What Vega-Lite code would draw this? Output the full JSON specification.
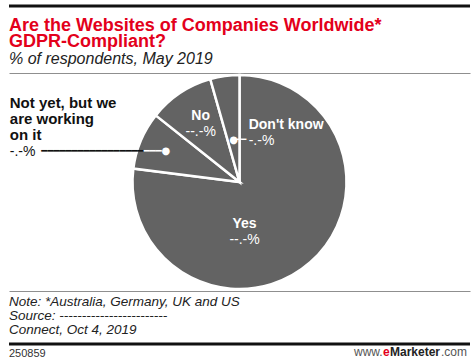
{
  "$schema": "https://vega.github.io/schema/vega-lite/v6.json",
  "padding": {"left": 7, "right": 6, "top": 4, "bottom": 0},
  "background": "white",
  "spacing": 0,
  "config": {
    "view": {"stroke": null},
    "font": "Liberation Sans",
    "concat": {"spacing": 0}
  },
  "vconcat": [
    {
      "width": 461, "height": 4,
      "view": {"stroke": "#111111", "strokeWidth": 3, "strokeDash": [461, 10000]},
      "title": {
        "text": ["Are the Websites of Companies Worldwide*", "GDPR-Compliant?"],
        "subtitle": "% of respondents, May 2019",
        "orient": "bottom",
        "anchor": "start",
        "font": "Liberation Sans",
        "fontSize": 18,
        "fontWeight": "bold",
        "color": "#e3001b",
        "lineHeight": 16,
        "subtitleFont": "Liberation Sans",
        "subtitleFontSize": 16,
        "subtitleFontStyle": "italic",
        "subtitleColor": "#222222",
        "subtitlePadding": 0,
        "offset": 7
      },
      "data": {"values": []},
      "mark": "text",
      "encoding": {}
    },
    {
      "width": 461, "height": 218,
      "view": {"stroke": "#8f8f8f", "strokeWidth": 1, "strokeDash": [461, 218]},
      "title": {
        "text": ["Note: *Australia, Germany, UK and US", "Source: ------------------------", "Connect, Oct 4, 2019"],
        "orient": "bottom",
        "anchor": "start",
        "font": "Liberation Sans",
        "fontSize": 13.5,
        "fontStyle": "italic",
        "fontWeight": "normal",
        "color": "#222222",
        "lineHeight": 14,
        "offset": 1
      },
      "data": {"values": [
        {"category": "Yes", "value": 77.0, "shown": "--.-%"},
        {"category": "Not yet, but we are working on it", "value": 8.7, "shown": "-.-%"},
        {"category": "No", "value": 9.9, "shown": "--.-%"},
        {"category": "Don't know", "value": 4.4, "shown": "-.-%"}
      ]},
      "encoding": {
        "theta": {"field": "value", "type": "quantitative", "stack": true},
        "order": {"field": "category", "type": "ordinal", "sort": "descending"},
        "detail": {"field": "category"}
      },
      "layer": [
        {"mark": {"type": "arc", "radius": 107, "fill": "#636363", "stroke": "white", "strokeWidth": 2.5}},
        {
          "mark": {"type": "text", "clip": true, "radius": 50, "dx": -28, "dy": 4, "font": "Liberation Sans", "fontSize": 14, "fontWeight": "bold", "fill": "white", "align": "center", "baseline": "middle"},
          "encoding": {"text": {"condition": {"test": "datum.category === 'Yes'", "value": "Yes"}, "value": ""}}
        },
        {
          "mark": {"type": "text", "clip": true, "radius": 50, "dx": -28, "dy": 20, "font": "Liberation Sans", "fontSize": 14, "fill": "white", "align": "center", "baseline": "middle"},
          "encoding": {"text": {"condition": {"test": "datum.category === 'Yes'", "field": "shown"}, "value": ""}}
        },
        {
          "mark": {"type": "text", "clip": true, "radius": 70, "dy": -8, "font": "Liberation Sans", "fontSize": 14, "fontWeight": "bold", "fill": "white", "align": "center", "baseline": "middle"},
          "encoding": {"text": {"condition": {"test": "datum.category === 'No'", "value": "No"}, "value": ""}}
        },
        {
          "mark": {"type": "text", "clip": true, "radius": 70, "dy": 8, "font": "Liberation Sans", "fontSize": 14, "fill": "white", "align": "center", "baseline": "middle"},
          "encoding": {"text": {"condition": {"test": "datum.category === 'No'", "field": "shown"}, "value": ""}}
        },
        {
          "mark": {"type": "text", "clip": true, "radius": 42, "font": "DejaVu Sans", "fontSize": 10, "fill": "white", "align": "center", "baseline": "middle"},
          "encoding": {"text": {"condition": {"test": "datum.category === \"Don't know\"", "value": "●"}, "value": ""}}
        },
        {
          "mark": {"type": "text", "clip": true, "radius": 42, "dx": 3, "font": "DejaVu Sans", "fontSize": 8, "fill": "white", "align": "left", "baseline": "middle"},
          "encoding": {"text": {"condition": {"test": "datum.category === \"Don't know\"", "value": "━━"}, "value": ""}}
        },
        {
          "mark": {"type": "text", "clip": true, "radius": 42, "dx": 15, "dy": -15, "font": "Liberation Sans", "fontSize": 14, "fontWeight": "bold", "fill": "white", "align": "left", "baseline": "middle"},
          "encoding": {"text": {"condition": {"test": "datum.category === \"Don't know\"", "value": "Don't know"}, "value": ""}}
        },
        {
          "mark": {"type": "text", "clip": true, "radius": 42, "dx": 15, "dy": 1, "font": "Liberation Sans", "fontSize": 14, "fill": "white", "align": "left", "baseline": "middle"},
          "encoding": {"text": {"condition": {"test": "datum.category === \"Don't know\"", "field": "shown"}, "value": ""}}
        },
        {
          "mark": {"type": "text", "clip": true, "radius": 80, "dx": -4, "font": "DejaVu Sans", "fontSize": 10, "fill": "#111111", "align": "right", "baseline": "middle"},
          "encoding": {"text": {"condition": {"test": "indexof(datum.category, 'Not yet') === 0", "value": "━━━━━━━━━━━━━━━━━━━━"}, "value": ""}}
        },
        {
          "mark": {"type": "text", "clip": true, "radius": 80, "dx": -4, "font": "DejaVu Sans", "fontSize": 10, "fill": "white", "align": "right", "baseline": "middle"},
          "encoding": {"text": {"condition": {"test": "indexof(datum.category, 'Not yet') === 0", "value": "━━━"}, "value": ""}}
        },
        {
          "mark": {"type": "text", "clip": true, "radius": 80, "font": "DejaVu Sans", "fontSize": 10, "fill": "white", "align": "center", "baseline": "middle"},
          "encoding": {"text": {"condition": {"test": "indexof(datum.category, 'Not yet') === 0", "value": "●"}, "value": ""}}
        },
        {
          "mark": {"type": "text", "clip": true, "radius": 80, "dx": -156, "dy": -48, "font": "Liberation Sans", "fontSize": 15, "fontWeight": "bold", "fill": "#111111", "align": "left", "baseline": "middle", "lineBreak": "\n", "lineHeight": 16},
          "encoding": {"text": {"condition": {"test": "indexof(datum.category, 'Not yet') === 0", "value": "Not yet, but we\nare working\non it"}, "value": ""}}
        },
        {
          "mark": {"type": "text", "clip": true, "radius": 80, "dx": -156, "dy": 1, "font": "Liberation Sans", "fontSize": 14, "fill": "#111111", "align": "left", "baseline": "middle"},
          "encoding": {"text": {"condition": {"test": "indexof(datum.category, 'Not yet') === 0", "field": "shown"}, "value": ""}}
        }
      ]
    },
    {
      "width": 461, "height": 5,
      "view": {"stroke": "#111111", "strokeWidth": 3, "strokeDash": [461, 471], "strokeDashOffset": 466},
      "data": {"values": []},
      "mark": "text",
      "encoding": {}
    },
    {
      "spacing": 0,
      "hconcat": [
        {
          "width": 345, "height": 0.01,
          "title": {"text": "250859", "anchor": "start", "font": "Liberation Sans", "fontSize": 11, "fontWeight": "normal", "color": "#333333", "offset": 0, "baseline": "alphabetic"},
          "data": {"values": []}, "mark": "text", "encoding": {}
        },
        {
          "width": 0.01, "height": 0.01,
          "title": {"text": "www.", "anchor": "start", "font": "Liberation Sans", "fontSize": 12, "fontWeight": "normal", "color": "#555555", "offset": 0, "baseline": "alphabetic"},
          "data": {"values": []}, "mark": "text", "encoding": {}
        },
        {
          "width": 0.01, "height": 0.01,
          "title": {"text": "e", "anchor": "start", "font": "Liberation Sans", "fontSize": 12, "fontWeight": "bold", "color": "#e3001b", "offset": 0, "baseline": "alphabetic"},
          "data": {"values": []}, "mark": "text", "encoding": {}
        },
        {
          "width": 0.01, "height": 0.01,
          "title": {"text": "Marketer", "anchor": "start", "font": "Liberation Sans", "fontSize": 12, "fontWeight": "bold", "color": "#222222", "offset": 0, "baseline": "alphabetic"},
          "data": {"values": []}, "mark": "text", "encoding": {}
        },
        {
          "width": 0.01, "height": 0.01,
          "title": {"text": ".com", "anchor": "start", "font": "Liberation Sans", "fontSize": 12, "fontWeight": "normal", "color": "#555555", "offset": 0, "baseline": "alphabetic"},
          "data": {"values": []}, "mark": "text", "encoding": {}
        }
      ]
    }
  ]
}
